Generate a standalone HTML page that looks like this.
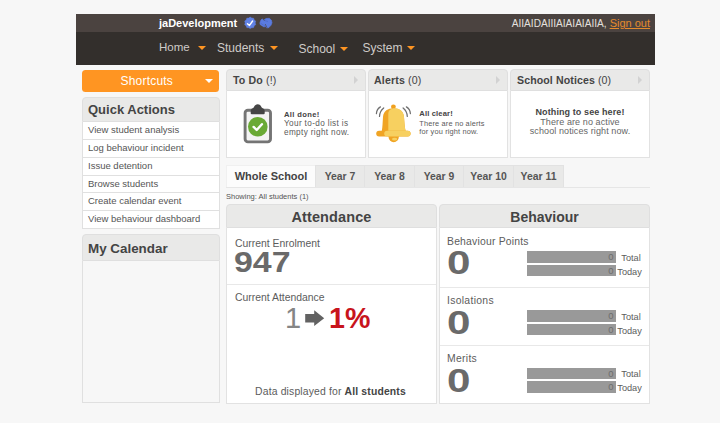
<!DOCTYPE html>
<html><head><meta charset="utf-8">
<style>
*{box-sizing:border-box;margin:0;padding:0}
html,body{width:720px;height:423px;overflow:hidden;background:#f7f7f7;font-family:"Liberation Sans",sans-serif;color:#444}
.abs{position:absolute;white-space:nowrap}
#top{left:76px;top:14px;width:579px;height:18px;background:#4b4340}
#nav{left:76px;top:32px;width:579px;height:33px;background:#332f2c}
#top .t{position:absolute;top:3px;font-size:11px;color:#fff;white-space:nowrap}
#nav .m{position:absolute;top:9px;font-size:12px;color:#cfcbc8;white-space:nowrap}
.car{position:absolute;width:0;height:0;border-left:4px solid transparent;border-right:4px solid transparent;border-top:4px solid #ff9522}
#short{left:82px;top:70.3px;width:137.4px;height:21.3px;background:#ff9522;border-radius:3.5px;color:#fff;font-size:12px;line-height:23px;letter-spacing:.2px}
.panel{background:#fff;border:1px solid #e2e2e2}
.hd{background:#e9e9e8;border:1px solid #dfdfdf;border-radius:4px 4px 0 0;font-weight:bold;color:#444}
.qa{left:82px;width:138px;background:#fff;border:1px solid #e0e0e0;border-top:none;font-size:9.5px;padding-left:5px;color:#555}
.tab{top:164.5px;height:22px;font-size:10.4px;line-height:21px;text-align:center;font-weight:bold;color:#555;background:#e9e9e8;border:1px solid #e2e2e2;border-bottom:none}
.big{font-size:34px;font-weight:bold;color:#6a6a6a;transform-origin:0 0}
.lbl{font-size:10.4px;color:#5c5c5c;letter-spacing:.2px}
.bar{background:#999;height:11.4px;width:89.2px;font-size:9.5px;color:#6c6c6c;text-align:right;line-height:12px;padding-right:2.6px}
.bl{font-size:9.2px;color:#5c5c5c;margin-top:.5px}
.arr{width:0;height:0;border-top:4px solid transparent;border-bottom:4px solid transparent;border-left:4px solid #d2d2d2}
.msg{font-size:8.2px;line-height:10px;color:#5a5a5a;letter-spacing:.36px}
.msg b{color:#444;font-size:7.6px}
</style></head><body>
<div id="top" class="abs">
 <span class="t" id="t_ja" style="left:83px;font-weight:bold">jaDevelopment</span>
 <span class="t" id="t_nm" style="right:5px;color:#e4e0de"><span style="font-size:10.1px">AIIAIDAIIIAIAIAIAIIA,</span> <span style="color:#e48b2c;text-decoration:underline">Sign out</span></span>
</div>
<div id="nav" class="abs">
 <span class="m" id="m1" style="left:83px;font-size:11.5px">Home</span><i class="car" style="left:122px;top:14px"></i>
 <span class="m" id="m2" style="left:141px">Students</span><i class="car" style="left:193.5px;top:14px"></i>
 <span class="m" id="m3" style="left:222.5px;top:10px">School</span><i class="car" style="left:264px;top:14.5px"></i>
 <span class="m" id="m4" style="left:286.5px">System</span><i class="car" style="left:330.5px;top:13.5px"></i>
</div>
<div id="short" class="abs"><span id="t_sc" style="position:absolute;left:38.5px">Shortcuts</span></div>
<i class="car abs" style="left:204.9px;top:79.2px;border-top-color:#fff"></i>

<div class="abs hd" style="left:82px;top:97px;width:138px;height:24.5px;font-size:13px;line-height:23px;padding-left:5px"><span id="t_qa">Quick Actions</span></div>
<div class="abs qa" style="top:121.5px;height:18px;line-height:16px"><span id="q1">View student analysis</span></div>
<div class="abs qa" style="top:139.5px;height:18px;line-height:16px"><span id="q2">Log behaviour incident</span></div>
<div class="abs qa" style="top:157.5px;height:18px;line-height:16px"><span id="q3">Issue detention</span></div>
<div class="abs qa" style="top:175.5px;height:17px;line-height:16px"><span id="q4">Browse students</span></div>
<div class="abs qa" style="top:192.5px;height:18px;line-height:16px"><span id="q5">Create calendar event</span></div>
<div class="abs qa" style="top:210.5px;height:18px;line-height:16px"><span id="q6">View behaviour dashboard</span></div>

<div class="abs hd" style="left:82px;top:234px;width:138px;height:27px;font-size:13.4px;line-height:27px;padding-left:5px"><span id="t_mc">My Calendar</span></div>
<div class="abs" style="left:82px;top:261px;width:138px;height:142px;border:1px solid #e0e0e0;border-top:none"></div>

<!-- top panels -->
<div class="abs hd" style="left:225.5px;top:69.4px;width:140px;height:21.6px;font-size:10.6px;line-height:20.8px;padding-left:6.5px;letter-spacing:.15px"><span id="h1">To Do <span style="font-weight:normal">(!)</span></span></div>
<div class="abs panel" style="left:225.5px;top:91px;width:140px;height:67px;border-top:none"></div>
<div class="abs hd" style="left:367.5px;top:69.4px;width:140.3px;height:21.6px;font-size:10.6px;line-height:20.8px;padding-left:5.5px;letter-spacing:.15px"><span id="h2">Alerts <span style="font-weight:normal">(0)</span></span></div>
<div class="abs panel" style="left:367.5px;top:91px;width:140.3px;height:67px;border-top:none"></div>
<div class="abs hd" style="left:510.2px;top:69.4px;width:140px;height:21.6px;font-size:10.6px;line-height:20.8px;padding-left:5.8px;letter-spacing:.1px"><span id="h3">School Notices <span style="font-weight:normal">(0)</span></span></div>
<div class="abs panel" style="left:510.2px;top:91px;width:140px;height:67px;border-top:none"></div>
<i class="abs arr" style="left:354.3px;top:75.6px"></i>
<i class="abs arr" style="left:496px;top:75.6px"></i>
<i class="abs arr" style="left:637.6px;top:75.6px"></i>

<div class="abs msg" style="left:284px;top:110.2px"><b>All done!</b></div>
<div class="abs msg" style="left:284px;top:119.3px"><span id="ms1">Your to-do list is</span></div>
<div class="abs msg" style="left:284px;top:127.8px">empty right now.</div>
<div class="abs msg" style="left:419.3px;top:109px;letter-spacing:.15px"><b>All clear!</b></div>
<div class="abs msg" style="left:419.3px;top:118.5px;font-size:7.4px;letter-spacing:.15px"><span id="ms2">There are no alerts</span></div>
<div class="abs msg" style="left:419.3px;top:126.5px;font-size:7.4px;letter-spacing:.15px">for you right now.</div>
<div class="abs" style="left:510px;top:108px;width:140px;text-align:center;font-size:9px;line-height:9.5px;color:#666;letter-spacing:.1px"><b style="color:#444">Nothing to see here!</b><br>There are no active<br><span id="ms3">school notices right now.</span></div>

<!-- tabs -->
<div class="abs" style="left:226px;top:186.5px;width:424px;height:1px;background:#e6e6e6"></div>
<div class="abs tab" style="left:226px;width:90px;background:#fcfcfc;color:#444;border-color:#f0f0f0;font-size:11px"><span id="tb0">Whole School</span></div>
<div class="abs tab" style="left:315px;width:50px"><span id="tb1">Year 7</span></div>
<div class="abs tab" style="left:364px;width:51px">Year 8</div>
<div class="abs tab" style="left:414px;width:50px">Year 9</div>
<div class="abs tab" style="left:463px;width:51px">Year 10</div>
<div class="abs tab" style="left:513px;width:51px"><span id="tb5">Year 11</span></div>
<div class="abs" id="shw" style="left:226px;top:191.5px;font-size:7.5px;color:#555">Showing: All students (1)</div>

<!-- attendance -->
<div class="abs hd" style="left:226px;top:203.5px;width:211px;height:24.5px;font-size:14.5px;line-height:24px;text-align:center;letter-spacing:.1px"><span id="t_at">Attendance</span></div>
<div class="abs panel" style="left:226px;top:228px;width:211px;height:176px;border-top:none"></div>
<div class="abs" style="left:227px;top:284px;width:209px;height:1px;background:#e8e8e8"></div>
<div class="abs lbl" id="l_ce" style="left:235px;top:237.5px;letter-spacing:0">Current Enrolment</div>
<div class="abs big" id="b947" style="left:234px;top:244.6px;font-size:30px;transform:scaleX(1.13)">947</div>
<div class="abs lbl" id="l_ca" style="left:235px;top:292px;letter-spacing:0">Current Attendance</div>
<div class="abs" style="left:285px;top:302px;font-size:29px;color:#858585">1</div>
<div class="abs" style="left:329px;top:302px;font-size:28.6px;font-weight:bold;color:#c8141c">1%</div>
<div class="abs lbl" id="l_dd" style="left:225px;top:385.5px;width:211px;text-align:center;letter-spacing:.15px">Data displayed for <b style="color:#444">All students</b></div>

<!-- behaviour -->
<div class="abs hd" style="left:439px;top:203.5px;width:211px;height:24.5px;font-size:14px;line-height:24px;text-align:center"><span id="t_bh">Behaviour</span></div>
<div class="abs panel" style="left:439px;top:228px;width:211px;height:176px;border-top:none"></div>
<div class="abs" style="left:440px;top:287px;width:209px;height:1px;background:#e8e8e8"></div>
<div class="abs" style="left:440px;top:345px;width:209px;height:1px;background:#e8e8e8"></div>
<div class="abs lbl" id="l_bp" style="left:447px;top:235.7px">Behaviour Points</div>
<div class="abs big" id="z1" style="left:447px;top:243px;transform:scaleX(1.24)">0</div>
<div class="abs lbl" style="left:447px;top:295px;letter-spacing:.3px">Isolations</div>
<div class="abs big" style="left:447px;top:302.5px;transform:scaleX(1.24)">0</div>
<div class="abs lbl" style="left:447px;top:352.8px;letter-spacing:.3px">Merits</div>
<div class="abs big" style="left:447px;top:360.6px;transform:scaleX(1.24)">0</div>

<div class="abs bar" style="left:527px;top:251.4px">0</div><div class="abs bl" style="left:621.3px;top:252px">Total</div>
<div class="abs bar" style="left:527px;top:265.1px">0</div><div class="abs bl" style="left:617.3px;top:266px">Today</div>
<div class="abs bar" style="left:527px;top:310.4px">0</div><div class="abs bl" style="left:621.3px;top:311px">Total</div>
<div class="abs bar" style="left:527px;top:324.1px">0</div><div class="abs bl" style="left:617.3px;top:325px">Today</div>
<div class="abs bar" style="left:527px;top:367.5px">0</div><div class="abs bl" style="left:621.3px;top:368px">Total</div>
<div class="abs bar" style="left:527px;top:381.2px">0</div><div class="abs bl" style="left:617.3px;top:382px">Today</div>

<svg class="abs" style="left:0;top:0" width="720" height="423" viewBox="0 0 720 423">
 <!-- badge -->
 <polygon fill="#6081e4" stroke="#6081e4" stroke-width=".5" stroke-linejoin="round" points="250.2,17.1 251.7,18.1 253.6,18.2 254.2,20.0 255.7,21.1 255.2,22.9 255.7,24.7 254.2,25.8 253.6,27.6 251.7,27.7 250.2,28.6 248.7,27.7 246.8,27.6 246.2,25.8 244.7,24.7 245.2,22.9 244.7,21.1 246.2,20.0 246.8,18.2 248.7,18.1"/>
 <path d="M247.4 23.8 L249.5 25.4 L252.6 21" fill="none" stroke="#fff" stroke-width="1.4" stroke-linecap="round" stroke-linejoin="round"/>
 <!-- handshake -->
 <polygon fill="#5a7be0" stroke="#5a7be0" stroke-width=".6" stroke-linejoin="round" points="259.8,23.0 260.8,20.3 262.1,18.8 264.0,19.9 266.0,18.5 269.3,18.3 271.3,20.0 272.0,22.7 271.0,25.3 268.7,27.7 266.7,27.9 265.3,26.3 264.0,27.0 262.0,25.7 260.3,24.7"/>
 <path d="M262.5 18.4 L264.6 20.9 M265.2 24 L267.1 27.9" stroke="#4b4340" stroke-width=".8" fill="none" opacity=".8"/>
 <path d="M260.5 23.2 L265.3 26.2 M264.5 20.5 L268 21.5" stroke="#3f59b5" stroke-width=".6" fill="none" opacity=".7"/>
 <!-- clipboard -->
 <rect x="245.1" y="110.3" width="25.4" height="31.6" rx="2.8" fill="#f4f4f4" stroke="#747474" stroke-width="2.9"/>
 <path d="M251.8 114.2 Q250.7 114.2 250.7 113.2 L250.7 111 C250.7 109 252.4 108.5 253.7 107.6 C254.4 105.5 256 104.3 257.7 104.3 C259.4 104.3 261 105.5 261.7 107.6 C263 108.5 264.7 109 264.7 111 L264.7 113.2 Q264.7 114.2 263.6 114.2 Z" fill="#454545"/>
 <circle cx="257.8" cy="126.7" r="9.8" fill="#6aaa35"/>
 <path d="M253.6 126.9 L256.7 130 L261.9 124.2" fill="none" stroke="#fff" stroke-width="2.4" stroke-linecap="round" stroke-linejoin="round"/>

 <!-- bell -->
 <circle cx="393.4" cy="106.8" r="2.4" fill="#f0a01e"/>
 <path d="M381.7 131.5 C382.6 127 382.6 122 383 117 C383.5 111 388 108.3 393.4 108.3 C399 108.3 403.5 111 404 117 C404.4 122 404.6 127 405.7 131.5 Z" fill="#f0a424"/>
 <path d="M388.3 131.5 L388.3 114 C388.3 110.5 391 108.3 394.5 108.3 C399.5 108.3 403.5 111 404 117 C404.4 122 404.6 127 405.7 131.5 Z" fill="#f7d060"/>
 <ellipse cx="393.7" cy="136.6" rx="5.2" ry="5.6" fill="#f0a424"/>
 <ellipse cx="394.6" cy="139.2" rx="2.6" ry="1.4" fill="#f7d060"/>
 <rect x="376.2" y="130.7" width="34.4" height="5.8" rx="2.9" fill="#f0a424"/>
 <rect x="384.2" y="130.7" width="26.4" height="5.8" rx="2.9" fill="#f7d060"/>
 <g fill="none" stroke="#707070" stroke-width="1.25" stroke-linecap="round">
  <path d="M376.4 113.6 C376.6 110.6 378.2 108.2 380.4 106.9"/>
  <path d="M379.5 116.4 C379.6 112.8 381.3 109.8 383.7 107.9"/>
  <path d="M410.4 113.6 C410.2 110.6 408.6 108.2 406.4 106.9"/>
  <path d="M407.3 116.4 C407.2 112.8 405.5 109.8 403.1 107.9"/>
 </g>
 <!-- attendance arrow -->
 <path d="M305.2 314 L314.2 314 L314.2 310.3 L324.2 318.2 L314.2 326.1 L314.2 322.4 L305.2 322.4 Z" fill="#626262"/>
</svg>
</body></html>
